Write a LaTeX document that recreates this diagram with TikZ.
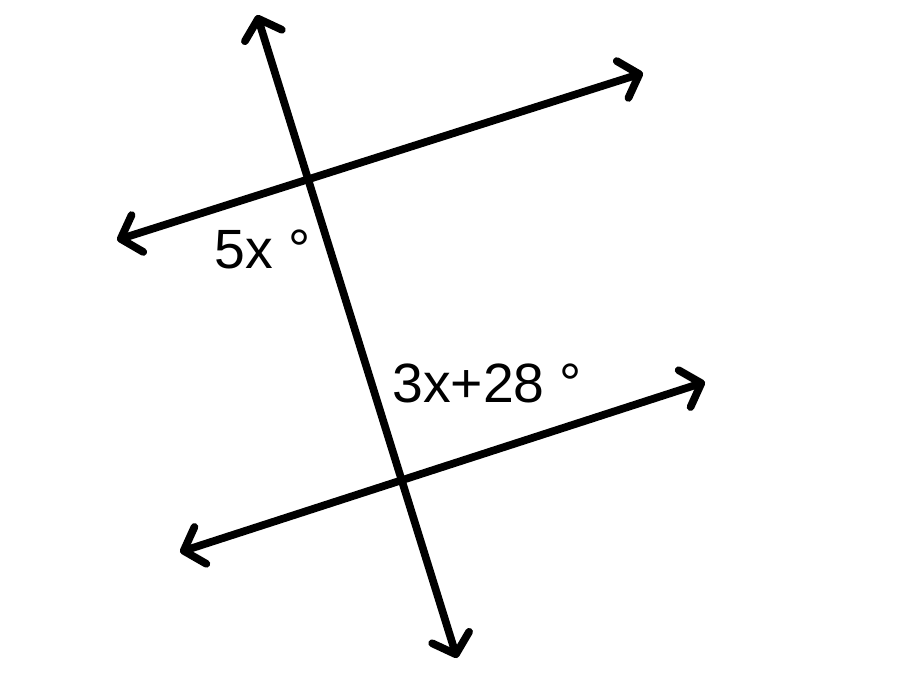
\documentclass[tikz,border=0pt]{standalone}
\usepackage{fontspec}
\setmainfont{Liberation Sans}
\usetikzlibrary{arrows.meta}
\tikzset{
  geoline/.style={line width=4.4pt, line cap=round, line join=round,
    {Straight Barb[length=10pt,width=22pt,line cap=round,line join=round]}-{Straight Barb[length=10pt,width=22pt,line cap=round,line join=round]}},
  anglabel/.style={anchor=base west, inner sep=0pt, font=\fontsize{31.5}{38}\selectfont}
}
\begin{document}
\begin{tikzpicture}[x=0.02cm,y=-0.02cm]
   \useasboundingbox (0,0) rectangle (922,684);
   % end points of the lines
   \coordinate (tTop) at (257,15);
   \coordinate (tBot) at (457,658);
   \coordinate (aLeft) at (117,240);
   \coordinate (aRight) at (643,73);
   \coordinate (bLeft) at (180,552);
   \coordinate (bRight) at (705,382);
   \draw[geoline] (tTop) -- (tBot);
   \draw[geoline] (aLeft) -- (aRight);
   \draw[geoline] (bLeft) -- (bRight);
   % angle labels
   \node[anglabel] (angA) at (214,268) {5x °};
   \node[anglabel] (angB) at (392,402) {3x+28 °};
\end{tikzpicture}
\end{document}
